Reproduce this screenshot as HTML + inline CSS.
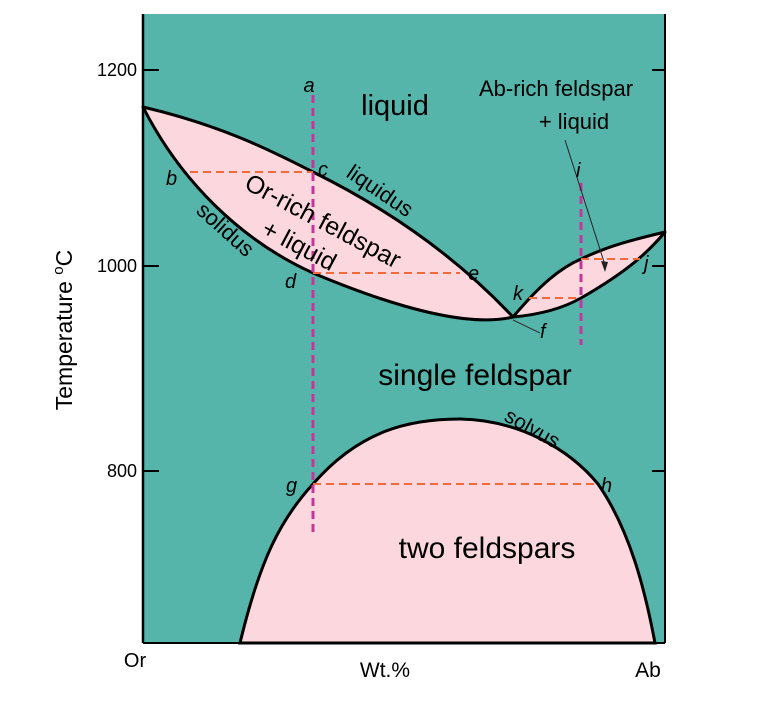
<!DOCTYPE html>
<html><head><style>
body{margin:0;background:#fff;}
svg{display:block;font-family:"Liberation Sans",Arial,sans-serif;}
</style></head><body>
<svg width="775" height="709" viewBox="0 0 775 709">
<rect x="0" y="0" width="775" height="709" fill="#fff"/>
<rect x="143" y="14" width="522" height="629" fill="#55b5ab"/>
<path d="M143,107 C220,125 270,150 313,172 C380,205 450,250 513,317 C480,325 420,318 313,273 C240,240 180,180 143,107 Z" fill="#fcd8de" stroke="#000" stroke-width="3" stroke-linejoin="round"/>
<path d="M513,317 C540,285 560,268 581,259 C610,245 640,238 665,232 C650,250 630,270 581,298 C560,310 535,315 513,317 Z" fill="#fcd8de" stroke="#000" stroke-width="3" stroke-linejoin="round"/>
<path d="M240,643 C260,560 280,520 313,484 C360,430 410,419 460,419 C520,420 570,450 598,484 C630,530 645,590 655,643 Z" fill="#fcd8de" stroke="#000" stroke-width="3"/>
<line x1="143" y1="14" x2="143" y2="643" stroke="#000" stroke-width="2.5"/>
<line x1="143" y1="643" x2="665" y2="643" stroke="#000" stroke-width="2"/>
<line x1="665" y1="14" x2="665" y2="643" stroke="#000" stroke-width="2"/>
<g stroke="#000" stroke-width="2">
<line x1="143" y1="70" x2="159" y2="70"/><line x1="143" y1="266" x2="159" y2="266"/><line x1="143" y1="471" x2="159" y2="471"/>
<line x1="652" y1="70" x2="665" y2="70"/><line x1="652" y1="266" x2="665" y2="266"/><line x1="652" y1="471" x2="665" y2="471"/>
</g>
<g stroke="#f26a3a" stroke-width="2" stroke-dasharray="8,5">
<line x1="190" y1="172" x2="313" y2="172"/>
<line x1="313" y1="273" x2="460" y2="273"/>
<line x1="529" y1="298" x2="581" y2="298"/>
<line x1="581" y1="259" x2="640" y2="259"/>
<line x1="313" y1="484" x2="598" y2="484"/>
</g>
<g stroke="#c4379a" stroke-width="3" stroke-dasharray="8,5">
<line x1="313" y1="95" x2="313" y2="535"/>
<line x1="581" y1="183" x2="581" y2="345"/>
</g>
<line x1="565" y1="140" x2="605" y2="265" stroke="#222" stroke-width="1"/>
<path d="M605,272 L601,261 L608,262 Z" fill="#222"/>
<line x1="513" y1="320" x2="540" y2="333" stroke="#333" stroke-width="1"/>
<g fill="#000" font-size="18">
<text x="137" y="76" text-anchor="end">1200</text>
<text x="137" y="272" text-anchor="end">1000</text>
<text x="137" y="477" text-anchor="end">800</text>
<text x="135" y="667" text-anchor="middle" font-size="20">Or</text>
<text x="385" y="677" text-anchor="middle" font-size="21">Wt.%</text>
<text x="648" y="677" text-anchor="middle" font-size="21">Ab</text>
</g>
<text transform="translate(72,330) rotate(-90)" text-anchor="middle" font-size="23" fill="#000">Temperature <tspan font-size="15" dy="-9">o</tspan><tspan dy="9">C</tspan></text>
<g fill="#000" font-style="italic" font-size="20">
<text x="309" y="92" text-anchor="middle">a</text>
<text x="166" y="185">b</text>
<text x="318" y="176">c</text>
<text x="285" y="288">d</text>
<text x="468" y="280">e</text>
<text x="540" y="338">f</text>
<text x="286" y="492">g</text>
<text x="601" y="492">h</text>
<text x="576" y="177">i</text>
<text x="644" y="270">j</text>
<text x="513" y="300">k</text>
</g>
<g fill="#000">
<text x="395" y="115" text-anchor="middle" font-size="29">liquid</text>
<text x="556" y="96" text-anchor="middle" font-size="22">Ab-rich feldspar</text>
<text x="574" y="129" text-anchor="middle" font-size="22">+ liquid</text>
<text x="475" y="385" text-anchor="middle" font-size="30">single feldspar</text>
<text x="487" y="558" text-anchor="middle" font-size="30">two feldspars</text>
<text transform="translate(345,176) rotate(34)" font-size="22">liquidus</text>
<text transform="translate(195,212) rotate(42)" font-size="22">solidus</text>
<text transform="translate(243,188) rotate(28)" font-size="25">Or-rich feldspar</text>
<text transform="translate(260,234) rotate(28)" font-size="25">+ liquid</text>
<text transform="translate(503,420) rotate(29)" font-size="21">solvus</text>
</g>
</svg>
</body></html>
